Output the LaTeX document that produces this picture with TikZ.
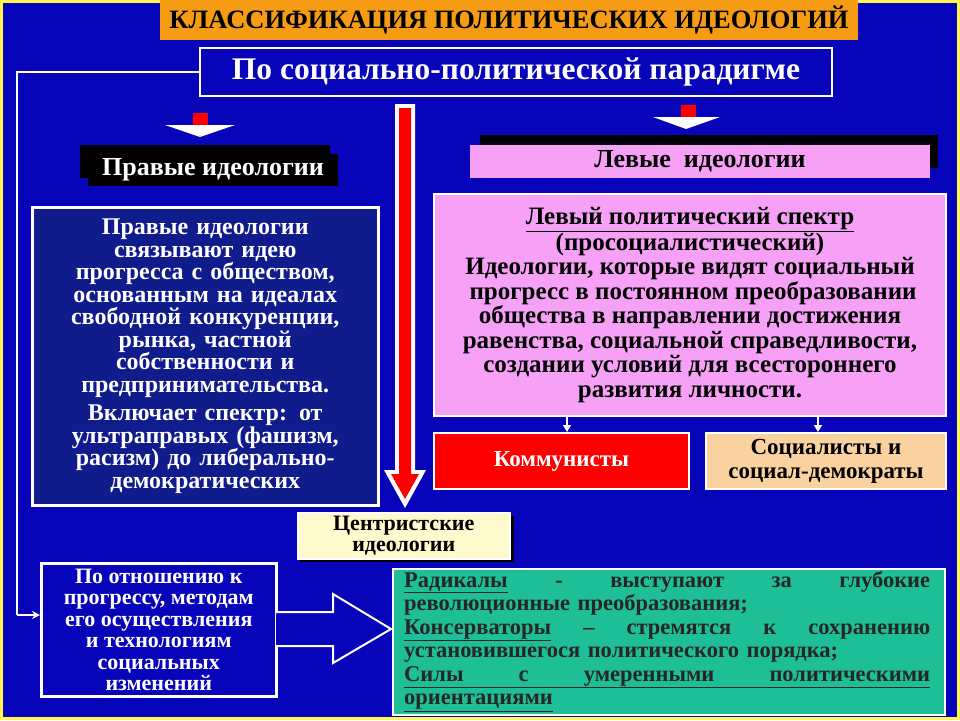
\documentclass[tikz,border=0pt]{standalone}
\usepackage{fontspec}
\setmainfont{Liberation Serif}
\usetikzlibrary{positioning,arrows.meta}
\definecolor{bgblue}{RGB}{8,4,186}
\definecolor{navy}{RGB}{16,28,140}
\definecolor{titleorange}{RGB}{246,156,20}
\definecolor{leftpink}{RGB}{246,160,246}
\definecolor{peach}{RGB}{250,210,160}
\definecolor{sea}{RGB}{30,190,150}
\definecolor{cream}{RGB}{255,250,205}
\tikzset{
  wbox/.style={draw=white, line width=2.5pt, inner sep=0pt},
  txt/.style={font=\bfseries\fontsize{23}{24}\selectfont, align=center},
  hollow/.style={draw=white, line width=2pt, fill=bgblue},
}
\begin{document}
\begin{tikzpicture}[x=1pt, y=-1pt]
\useasboundingbox (0,0) rectangle (960,720);
\fill[bgblue] (0,0) rectangle (960,720);
\draw[yellow!70!white, line width=3pt] (1.5,1.5) rectangle (958.5,718.5);

% title
\node[fill=titleorange, minimum width=698pt, minimum height=40pt, font=\bfseries\fontsize{26.5}{28}\selectfont] (title) at (509,20) {КЛАССИФИКАЦИЯ ПОЛИТИЧЕСКИХ ИДЕОЛОГИЙ};
\node[wbox, fill=bgblue, minimum width=632pt, minimum height=48pt, text=white, font=\bfseries\fontsize{31.5}{33}\selectfont] (para) at (516,72) {По социально-политической парадигме};

% small arrows
\fill[white] (165,125) -- (235,125) -- (200,137) -- cycle;
\fill[red] (193,113) rectangle (208,125);
\fill[white] (653,117) -- (720,117) -- (686,129) -- cycle;
\fill[red] (681,105) rectangle (696,117);

% right and left headings
\fill[black] (80,145) rectangle (330,178);
\node[fill=black, minimum width=250pt, minimum height=32pt, text=white, font=\bfseries\fontsize{26}{28}\selectfont] (right) at (213,170) {Правые идеологии};
\fill[black] (480,135) rectangle (938,168);
\node[fill=leftpink, minimum width=460pt, minimum height=33pt, font=\bfseries\fontsize{26}{28}\selectfont] (left) at (700,161) {Левые\ \ идеологии};

% big red arrow
\fill[white] (395,104) -- (415,104) -- (415,470) -- (426,470) -- (405,508) -- (384,470) -- (395,470) -- cycle;
\fill[red] (399,108) -- (411,108) -- (411,474) -- (419,474) -- (405,499) -- (391,474) -- (399,474) -- cycle;

% right ideologies text
\node[wbox, fill=navy, minimum width=346pt, minimum height=298pt, anchor=north west, text=white, txt, text width=340pt, font=\bfseries\fontsize{24}{22.5}\selectfont] (rtext) at (31,206) {Правые идеологии\\ связывают идею\\ прогресса с обществом,\\ основанным на идеалах\\ свободной конкуренции,\\ рынка, частной\\ собственности и\\ предпринимательства.\\[6pt] Включает спектр: от\\ ультраправых (фашизм,\\ расизм) до либерально-\\ демократических};

% left ideologies text
\node[draw=white, line width=2pt, fill=leftpink, minimum width=512pt, minimum height=222pt, anchor=north west, txt, font=\bfseries\fontsize{25}{24.5}\selectfont] (ltext) at (433,193) {\underline{Левый политический спектр}\\ (просоциалистический)\\ Идеологии, которые видят социальный\\ \ прогресс в постоянном преобразовании\\ общества в направлении достижения\\ равенства, социальной справедливости,\\ создании условий для всестороннего\\ развития личности.};

\node[draw=white, line width=2pt, fill=red, minimum width=255pt, minimum height=56pt, anchor=north west, text=white, txt] (comm) at (433,432) {Коммунисты};
\node[draw=white, line width=2pt, fill=peach, minimum width=240pt, minimum height=56pt, anchor=north west, txt] (soc) at (705,432) {Социалисты и\\ социал-демократы};
\draw[white, line width=1.5pt, -{Triangle[width=8pt,length=7pt]}] (ltext.south -| 567,0) -- (comm.north -| 567,0);
\draw[white, line width=1.5pt, -{Triangle[width=8pt,length=7pt]}] (ltext.south -| 818,0) -- (soc.north -| 818,0);

% centrists
\fill[black] (300,516) rectangle (514,562);
\node[draw=white, line width=1.5pt, fill=cream, minimum width=212pt, minimum height=46pt, anchor=north west, txt, font=\bfseries\fontsize{22}{21}\selectfont] (centr) at (297,512) {Центристские\\ идеологии};

% lower left
\node[wbox, fill=bgblue, minimum width=235pt, minimum height=133pt, anchor=north west, text=white, txt, font=\bfseries\fontsize{22}{21.5}\selectfont] (prog) at (40,562) {По отношению к\\ прогрессу, методам\\ его осуществления\\ и технологиям\\ социальных\\ изменений};
\coordinate (corner) at (17,72);
\draw[white, line width=2.5pt] (para.west) -- (corner) -- (17,615);
\draw[white, line width=2pt, -{Stealth[length=8pt,width=8pt]}] (17,615) -- (prog.west |- 0,615);

% hollow arrow
\draw[hollow] (276,612) -- (333,612) -- (333,594) -- (391,629) -- (333,663) -- (333,646) -- (276,646);

% green box
\node[draw=white, line width=2pt, fill=sea, minimum width=552pt, minimum height=146pt, anchor=north west, inner sep=0pt] (kinds) at (392,568) {};
\node[anchor=north west, text width=526pt, align=left, inner sep=0pt, font=\bfseries\fontsize{22.5}{23.5}\selectfont, text=black!85] (kindstxt) at (404,571) {\underline{Радикалы}\hfill -\hfill выступают\hfill за\hfill глубокие\\
революционные преобразования;\\
\underline{Консерваторы}\hfill --\hfill стремятся\hfill к\hfill сохранению\\
установившегося политического порядка;\\
\underline{\makebox[526pt]{Силы\hfill с\hfill умеренными\hfill политическими}}\\
\underline{ориентациями}};
\end{tikzpicture}
\end{document}
